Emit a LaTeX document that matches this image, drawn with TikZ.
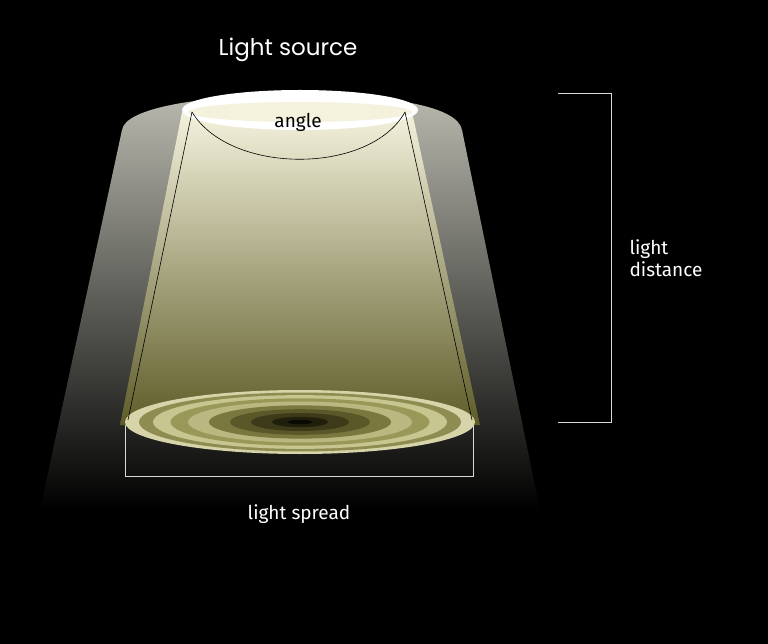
\documentclass[tikz,border=0pt]{standalone}
\usepackage{fontspec}
\setmainfont{Poppins}
\newfontfamily\bodyfont{Fira Sans}
\begin{document}
\begin{tikzpicture}[x=1pt,y=-1pt,
  lbl/.style={text=white,font=\bodyfont\fontsize{19}{22}\selectfont},
  thin line/.style={draw=black,line width=0.6pt},
  bracket/.style={draw=white!85!black,line width=0.8pt}]
\definecolor{olive1}{HTML}{A6A45C}
\definecolor{olive2}{HTML}{5E5C28}
\definecolor{pale}{HTML}{F4F2DC}
\definecolor{greyt}{HTML}{B8B8AE}
\fill[black] (0,0) rectangle (768,644);
\useasboundingbox (0,0) rectangle (768,644);
% outer beam
\shade[top color=greyt,middle color=olive2!80!black,bottom color=black]
  (40,510) -- (122,130) .. controls (125,108) and (200,95) .. (300,95)
  .. controls (400,95) and (458,108) .. (462,130) -- (540,510) -- cycle;
% inner beam
\shade[top color=pale,middle color=olive1,bottom color=olive2]
  (120,425) -- (182,112) -- (412,112) -- (480,425) -- cycle;
% top ellipse
\fill[white] (300,110) ellipse (118 and 20);
\fill[pale] (300,112) ellipse (112 and 10);
\node (cap) at (300,100) {};
% spread rings
\foreach \r/\c in {1/D6D4A8,0.92/8E8C50,0.84/C8C690,0.74/9A9858,0.64/BAB880,0.52/7A783E,0.4/5A5828,0.28/3C3A18,0.16/201F0C,0.07/0A0A04}{
  \definecolor{ringc}{HTML}{\c}
  \fill[ringc] (300,422) ellipse ({175*\r} and {32*\r});
}
\node (spot) at (300,422) {};
% angle lines
\coordinate (tl) at (192,112); \coordinate (tr) at (405,112);
\coordinate (bl) at (128,420); \coordinate (br) at (472,420);
\draw[thin line] (tl) -- (bl);
\draw[thin line] (tr) -- (br);
\draw[thin line] (tl) .. controls (230,175) and (370,175) .. (tr);
% brackets
\coordinate (s1) at (125,425); \coordinate (s2) at (473,425);
\draw[bracket] (s1) -- (125,476) -- (473,476) -- (s2);
\coordinate (d1) at (558,93); \coordinate (d2) at (558,422);
\draw[bracket] (d1) -- (611,93) -- (611,422) -- (d2);
% texts
\node[text=white,font=\fontsize{23}{26}\selectfont] (src) at (288,50) {Light source};
\node[text=black,font=\bodyfont\fontsize{19}{22}\selectfont] (ang) at (298,122) {angle};
\node[lbl,align=left,anchor=west] (dist) at (626,258) {light\\distance};
\node[lbl] (spr) at (299,514) {light spread};
\end{tikzpicture}
\end{document}
